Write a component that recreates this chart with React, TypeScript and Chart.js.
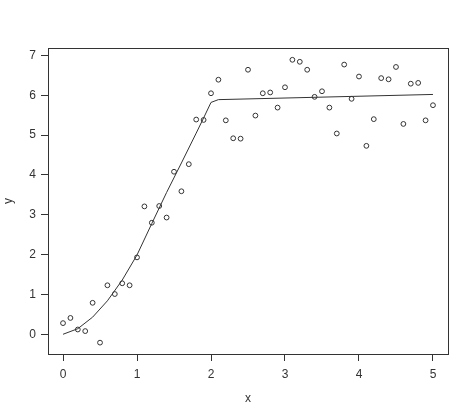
import { useEffect, useRef } from 'react';
import { Chart, ChartConfiguration, Plugin, registerables } from 'chart.js';

Chart.register(...registerables);

// observed points
const xValues = [
  0, 0.1, 0.2, 0.3, 0.4, 0.5, 0.6, 0.7, 0.8, 0.9,
  1.0, 1.1, 1.2, 1.3, 1.4, 1.5, 1.6, 1.7, 1.8, 1.9,
  2.0, 2.1, 2.2, 2.3, 2.4, 2.5, 2.6, 2.7, 2.8, 2.9,
  3.0, 3.1, 3.2, 3.3, 3.4, 3.5, 3.6, 3.7, 3.8, 3.9,
  4.0, 4.1, 4.2, 4.3, 4.4, 4.5, 4.6, 4.7, 4.8, 4.9,
  5.0,
];
const yValues = [
  0.28, 0.41, 0.12, 0.08, 0.79, -0.21, 1.23, 1.01, 1.28, 1.23,
  1.93, 3.21, 2.8, 3.22, 2.93, 4.08, 3.59, 4.27, 5.39, 5.38,
  6.05, 6.39, 5.37, 4.92, 4.91, 6.64, 5.49, 6.05, 6.07, 5.69,
  6.2, 6.89, 6.84, 6.64, 5.96, 6.1, 5.69, 5.04, 6.77, 5.91,
  6.47, 4.73, 5.4, 6.43, 6.4, 6.71, 5.28, 6.29, 6.31, 5.37,
  5.75,
];

// fitted curve
const fitX = [0, 0.2, 0.4, 0.6, 0.8, 1.0, 1.2, 1.4, 1.6, 1.8, 1.9, 2.0, 2.1, 5.0];
const fitY = [0, 0.14, 0.43, 0.84, 1.36, 1.99, 2.78, 3.56, 4.3, 5.05, 5.43, 5.82, 5.89, 6.02];

const xTicks = [0, 1, 2, 3, 4, 5];
const yTicks = [0, 1, 2, 3, 4, 5, 6, 7];

const INK = '#333333';
const FONT = { family: "'Liberation Sans', Arial, sans-serif", size: 12 };

// R-style box around the plot region
const boxPlugin: Plugin = {
  id: 'rbox',
  afterDraw(chart) {
    const { ctx, chartArea: a } = chart;
    ctx.save();
    ctx.strokeStyle = INK;
    ctx.lineWidth = 1;
    ctx.strokeRect(Math.round(a.left) + 0.5, Math.round(a.top) + 0.5,
      Math.round(a.right - a.left), Math.round(a.bottom - a.top));
    ctx.restore();
  },
};

export default function App() {
  const canvasRef = useRef<HTMLCanvasElement>(null);
  const chartRef = useRef<Chart | null>(null);

  useEffect(() => {
    if (!canvasRef.current) return;

    const config: ChartConfiguration = {
      type: 'scatter',
      data: {
        datasets: [
          {
            label: 'data',
            data: xValues.map((x, i) => ({ x, y: yValues[i] })),
            showLine: false,
            pointRadius: 2.4,
            pointBorderWidth: 1,
            pointBorderColor: INK,
            pointBackgroundColor: 'rgba(0,0,0,0)',
          },
          {
            label: 'fit',
            data: fitX.map((x, i) => ({ x, y: fitY[i] })),
            showLine: true,
            borderColor: INK,
            borderWidth: 1,
            pointRadius: 0,
            tension: 0,
          },
        ],
      },
      options: {
        responsive: true,
        maintainAspectRatio: false,
        animation: false,
        layout: { padding: { top: 48, right: 26, left: 0, bottom: 0 } },
        plugins: {
          legend: { display: false },
          tooltip: { enabled: false },
        },
        scales: {
          x: {
            type: 'linear',
            min: -0.203,
            max: 5.203,
            afterBuildTicks: (s) => { s.ticks = xTicks.map((v) => ({ value: v })); },
            afterFit: (s) => { s.height = 61; },
            grid: { drawOnChartArea: false, drawTicks: true, tickLength: 7, color: INK },
            border: { display: false },
            ticks: { font: FONT, color: INK, padding: 6, maxRotation: 0, autoSkip: false },
            title: { display: true, text: 'x', font: FONT, color: INK, padding: { top: 0, bottom: 9 } },
          },
          y: {
            type: 'linear',
            min: -0.495,
            max: 7.186,
            afterBuildTicks: (s) => { s.ticks = yTicks.map((v) => ({ value: v })); },
            afterFit: (s) => { s.width = 48; },
            grid: { drawOnChartArea: false, drawTicks: true, tickLength: 7, color: INK },
            border: { display: false },
            ticks: { font: FONT, color: INK, padding: 5, autoSkip: false },
            title: { display: true, text: 'y', font: FONT, color: INK, padding: { top: 1, bottom: 0 } },
          },
        },
      },
      plugins: [boxPlugin],
    };

    chartRef.current?.destroy();
    chartRef.current = new Chart(canvasRef.current, config);
    return () => { chartRef.current?.destroy(); chartRef.current = null; };
  }, []);

  return (
    <div style={{ position: 'fixed', left: 0, top: 0, width: 474, height: 415, background: '#fff' }}>
      <canvas ref={canvasRef} />
    </div>
  );
}
